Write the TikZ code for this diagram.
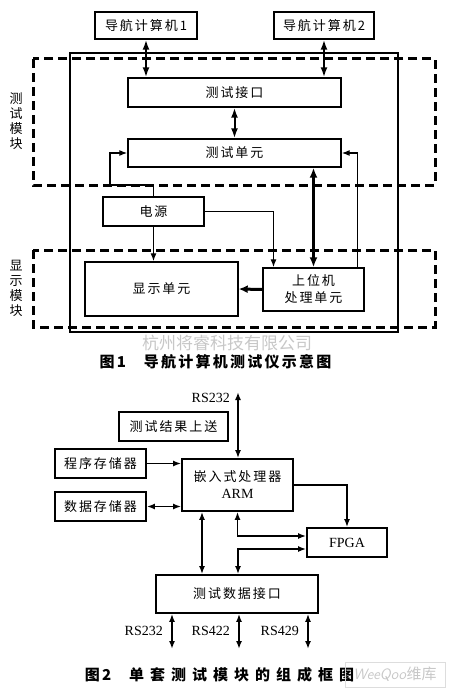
\documentclass[tikz,border=0pt]{standalone}
\usepackage{fontspec}
\setmainfont{Liberation Serif}
\newfontfamily\cjk[LetterSpace=15]{Noto Sans CJK SC}
\newfontfamily\cjkplain{Noto Sans CJK SC}
\usetikzlibrary{arrows.meta, positioning}
\definecolor{wmgray}{gray}{0.78}

\begin{document}
\begin{tikzpicture}[
        x=1pt, y=-1pt,
        box/.style={draw, line width=1.4pt, inner sep=0pt, align=center, font=\cjk\fontsize{13}{17}\selectfont},
        box2/.style={box, line width=1.8pt},
        latin/.style={font=\fontsize{14}{16}\selectfont, inner sep=1pt},
        side/.style={align=center, inner sep=0pt, font=\cjkplain\fontsize{13}{15}\selectfont},
        modbox/.style={draw, line width=3pt, dash pattern=on 9pt off 5pt},
        caption/.style={font=\cjk\bfseries\fontsize{15}{17}\selectfont, inner sep=0pt},
        wmark/.style={text=wmgray, inner sep=0pt, font=\cjkplain\fontsize{17}{19}\selectfont},
        arrow/.style={-{Latex[length=8pt,width=6pt]}, line width=1.2pt},
        dblarrow/.style={{Latex[length=10pt,width=7pt]}-{Latex[length=10pt,width=7pt]}, line width=2pt},
        bigdbl/.style={{Latex[length=10pt,width=8pt]}-{Latex[length=10pt,width=8pt]}, line width=3pt},
        bigarrow/.style={-{Latex[length=9pt,width=8pt]}, line width=3pt},
        arrowb/.style={-{Latex[length=8pt,width=6pt]}, line width=1.8pt},
        dblarrowb/.style={{Latex[length=8pt,width=6pt]}-{Latex[length=8pt,width=6pt]}, line width=1.8pt}
    ]
        \useasboundingbox (0,0) rectangle (450,695);

        % figure 1
        \draw[modbox] (33,59) rectangle (435,185);
        \draw[modbox] (33,250) rectangle (435,327);
        \draw[line width=1.3pt] (70,53) rectangle (398,332);
        \node[side] (testmod) at (16,121.5) {测\\试\\模\\块};
        \node[side] (dispmod) at (16,288) {显\\示\\模\\块};

        \node[box, minimum width=102pt, minimum height=27pt] (nav1) at (146,25.5) {导航计算机1};
        \node[box, minimum width=100pt, minimum height=27pt] (nav2) at (324,25.5) {导航计算机2};
        \node[box, minimum width=213pt, minimum height=29pt] (iface) at (234.5,92.5) {测试接口};
        \node[box, minimum width=213pt, minimum height=28pt] (unit) at (234.5,153) {测试单元};
        \node[box, minimum width=101pt, minimum height=29pt] (power) at (153.5,211.5) {电源};
        \node[box, minimum width=153pt, minimum height=54pt] (disp) at (161.5,289) {显示单元};
        \node[box, minimum width=101pt, minimum height=43pt] (host) at (313.5,289.5) {上位机\\处理单元};
        \coordinate (pwturn) at (110,185);

        \draw[dblarrow] (nav1.south) -- (nav1.south |- iface.north);
        \draw[dblarrow] (nav2.south) -- (nav2.south |- iface.north);
        \draw[dblarrow] (iface.south) -- (unit.north);
        \draw[arrow] (power.north) |- (pwturn) |- (unit.west);
        \draw[arrow] ([xshift=-7pt]host.north east) |- (unit.east);
        \draw[bigdbl] (host.north |- unit.south) -- (host.north);
        \draw[arrow] (power.east) -| ([xshift=-40pt]host.north);
        \draw[arrow] (power.south) -- (power.south |- disp.north);
        \draw[bigarrow] (host.west) -- (disp.east);

        \node[wmark] (wmark1) at (227,343) {杭州将睿科技有限公司};
        \node[caption] (cap1) at (215.5,362) {图1\hspace{18pt}导航计算机测试仪示意图};

        % figure 2
        \node[box2, minimum width=109pt, minimum height=29pt] (result) at (173.5,426.5) {测试结果上送};
        \node[box2, minimum width=91pt, minimum height=29pt] (prog) at (100.5,463.5) {程序存储器};
        \node[box2, minimum width=91pt, minimum height=29pt] (data) at (100.5,506.5) {数据存储器};
        \node[box2, minimum width=111pt, minimum height=52pt] (arm) at (237.5,485) {嵌入式处理器\\{\rmfamily\fontsize{14}{16}\selectfont ARM}};
        \node[box2, minimum width=80pt, minimum height=29pt, font=\fontsize{14}{16}\selectfont] (fpga) at (347,542.5) {FPGA};
        \node[box2, minimum width=162pt, minimum height=38pt] (tdi) at (237,594) {测试数据接口};

        \coordinate (rstop) at (238,392);
        \node[latin, left=7pt of rstop, yshift=-6pt] (rs0) {RS232};
        \draw[dblarrowb] (rstop) -- (rstop |- arm.north);
        \draw[arrowb] (prog.east) -- (prog.east -| arm.west);
        \draw[dblarrowb] (data.east) -- (data.east -| arm.west);
        \draw[arrowb] (arm.east) -| (fpga.north);
        \draw[dblarrowb] ([xshift=-35.5pt]arm.south) -- ([xshift=-35.5pt]arm.south |- tdi.north);
        \draw[dblarrowb] (arm.south) |- ([yshift=6.5pt]fpga.west);
        \draw[dblarrowb] ([xshift=1pt]tdi.north) |- ([yshift=-6.5pt]fpga.west);

        \foreach \px/\name/\txt in {172/rsa/RS232, 239/rsb/RS422, 308/rsc/RS429} {
            \coordinate (\name) at (\px,649);
            \draw[dblarrowb] (\name |- tdi.south) -- (\name);
            \node[latin, left=8pt of \name, yshift=18pt] (\name lbl) {\txt};
        }

        \node[caption] (cap2) at (219.5,675) {图2\hspace{18pt}\addfontfeature{LetterSpace=40}单套测试模块的组成框图};
        \node[draw=wmgray!60, minimum width=100pt, minimum height=25pt, inner sep=0pt, text=wmgray,
              font=\fontsize{15}{17}\selectfont] (wmark2) at (395,674.5) {\textit{\sffamily WeeQoo}{\cjkplain 维库}};
    \end{tikzpicture}
\end{document}
